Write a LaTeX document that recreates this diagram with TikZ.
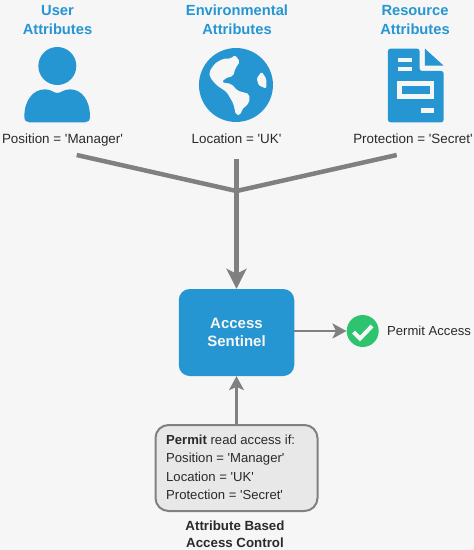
\documentclass[tikz,border=0pt]{standalone}
\usepackage{fontspec}
\setmainfont{Liberation Sans}
\newfontfamily\lib{Liberation Sans}
\usetikzlibrary{arrows.meta}
\definecolor{bluex}{HTML}{2596D1}
\definecolor{grayx}{HTML}{808080}
\definecolor{greenx}{HTML}{2EC46F}
\definecolor{bgx}{HTML}{F6F6F6}
\definecolor{textx}{HTML}{2A2A2A}
\tikzset{
  title/.style={font=\lib\fontsize{14.7}{19}\selectfont\bfseries,text=bluex,align=center,inner sep=0pt},
  attr/.style={font=\lib\fontsize{13.4}{16}\selectfont,text=textx,inner sep=0pt,anchor=base},
  rule/.style={font=\lib\fontsize{13.1}{16}\selectfont,text=textx,anchor=base west,inner sep=0pt},
  feed/.style={draw=grayx,line width=4.5pt},
  bigarrow/.style={draw=grayx,line width=4.5pt,-{Stealth[length=20pt,width=20pt,inset=5pt]}},
  smallarrow/.style={draw=grayx,line width=2.5pt,-{Stealth[length=14pt,width=15pt,inset=3.5pt]}},
  icon/.style={fill=bluex,draw=none},
  cut/.style={fill=bgx,draw=none}
}
\begin{document}
\begin{tikzpicture}[x=1pt,y=-1pt]
\useasboundingbox (0,0) rectangle (474,550);
\fill[bgx] (0,0) rectangle (474,550);

% titles
\node[title] (tu) at (57.5,20) {User\\Attributes};
\node[title] (te) at (237,20) {Environmental\\Attributes};
\node[title] (tr) at (415,20) {Resource\\Attributes};

% icons, in coordinates of a 3x view
\begin{scope}[x=0.3333pt,y=-0.3333pt]
  % person
  \fill[icon] (172,198) circle[radius=57];
  \fill[icon] (73,350) .. controls (73,300) and (100,268) .. (135,268)
     .. controls (155,268) and (160,279) .. (172,279)
     .. controls (184,279) and (190,268) .. (210,268)
     .. controls (245,268) and (270,300) .. (270,350)
     .. controls (270,362) and (264,367) .. (255,367)
     -- (88,367) .. controls (79,367) and (73,362) .. (73,350) -- cycle;
  % globe
  \fill[icon] (708,255) circle[radius=111];
  \fill[cut,rounded corners=2pt] (628,215) -- (645,190) -- (670,176) -- (692,176) -- (705,165)
     -- (720,185) -- (706,205) -- (700,228) -- (675,235) -- (666,247) -- (695,252)
     -- (712,272) -- (748,282) -- (748,308) -- (725,330) -- (722,345) -- (708,345)
     -- (700,310) -- (680,276) -- (650,256) -- (630,232) -- cycle;
  \fill[cut,rounded corners=1.5pt] (785,215) -- (770,235) -- (776,256) -- (799,266) -- (799,236) -- cycle;
  % document
  \fill[icon,rounded corners=2.5pt] (1164,146) -- (1259,146) -- (1259,213) -- (1331,213) -- (1331,367) -- (1164,367) -- cycle;
  \fill[icon] (1275,146) -- (1331,197) -- (1275,197) -- cycle;
  \fill[cut] (1194,175) rectangle (1235,187);
  \fill[cut] (1194,202) rectangle (1235,214);
  \fill[cut] (1192,243) rectangle (1303,297);
  \fill[icon] (1207,257) rectangle (1289,283);
  \fill[cut] (1262,325) rectangle (1303,339);
\end{scope}

% attribute labels
\node[attr] (lu) at (62.5,143.5) {Position = 'Manager'};
\node[attr] (le) at (236.5,143.5) {Location = 'UK'};
\node[attr] (lr) at (413,143.5) {Protection = 'Secret'};

% sentinel
\node[fill=bluex,rounded corners=11pt,minimum width=115.5pt,minimum height=87pt,inner sep=0pt,
      font=\lib\fontsize{15}{18.5}\selectfont\bfseries,text=bgx,align=center] (sentinel) at (236.5,332.5) {Access\\Sentinel};

% permit
\node[circle,fill=greenx,minimum size=32pt,inner sep=0pt] (ok) at (362.7,331) {};
\draw[bgx,line width=4pt] (353.5,332) -- (360,338.5) -- (372,326);
\node[font=\lib\fontsize{13.1}{16}\selectfont,text=textx,anchor=base west,inner sep=0pt] (permit) at (387,335.5) {Permit Access};

% policy
\node[draw=grayx,line width=2pt,fill=black!9,rounded corners=13pt,minimum width=162pt,minimum height=86pt,inner sep=0pt] (policy) at (236.5,468) {};
\node[rule] (p1) at (166,444) {\textbf{Permit} read access if:};
\node[rule] (p2) at (166,462) {Position = 'Manager'};
\node[rule] (p3) at (166,481) {Location = 'UK'};
\node[rule] (p4) at (166,499) {Protection = 'Secret'};
\node[font=\lib\fontsize{13.3}{17}\selectfont\bfseries,text=textx,align=center,inner sep=0pt] (cap) at (235,534.5) {Attribute Based\\Access Control};

% connectors
\coordinate (fl) at (76.7,155);
\coordinate (fr) at (396.7,155);
\coordinate (ft) at (236.5,159);
\coordinate (j) at (236.5,191);
\draw[feed,line join=miter] (fl) -- (j) -- (fr);
\draw[feed] (ft) -- (j);
\draw[bigarrow] (j) -- (sentinel.north);
\draw[smallarrow] (sentinel.east |- ok.west) -- (ok.west);
\draw[smallarrow] (policy.north) -- (sentinel.south);
\end{tikzpicture}
\end{document}
